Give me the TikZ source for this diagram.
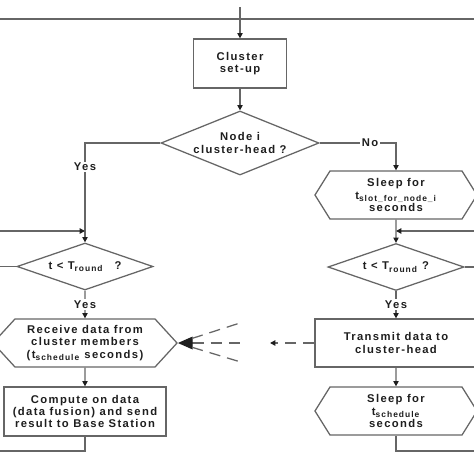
\documentclass[tikz,border=0pt]{standalone}
\usepackage{fontspec}
\setmainfont{Liberation Sans}[LetterSpace=12]
\usetikzlibrary{shapes.geometric, shapes.symbols, arrows.meta}
\definecolor{ink}{HTML}{1E1E1E}
\definecolor{wire}{HTML}{666666}
\newcommand{\chartlabel}{\fontsize{8}{8.8}\selectfont\bfseries}
\tikzset{
  flowbox/.style={rectangle, draw=wire, line width=0.9pt, fill=white, text=ink, align=center, font=\chartlabel, minimum width=4.05cm, minimum height=1.2cm, inner sep=1pt},
  query/.style={diamond, aspect=2.6, draw=wire, line width=0.9pt, fill=white, text=ink, align=center, font=\chartlabel, minimum width=3.4cm, minimum height=1.175cm, inner sep=0pt},
  waitbox/.style={signal, signal to=west and east, signal pointer angle=116, draw=wire, line width=0.9pt, fill=white, text=ink, align=center, font=\chartlabel, minimum width=4.05cm, minimum height=1.2cm, inner sep=1pt},
  line/.style={draw=wire, line width=0.9pt},
  flow/.style={line, -{Triangle[length=3.8pt, width=3.8pt, color=ink]}},
  radio/.style={line, dash pattern=on 8pt off 5pt},
  tag/.style={fill=white, text=ink, font=\chartlabel, inner sep=1pt},
}
\begin{document}
\begin{tikzpicture}[x=0.025cm, y=-0.025cm]
  \useasboundingbox (0,0) rectangle (474,474);
  % main column nodes
  \node[flowbox, minimum width=2.325cm, minimum height=1.225cm] (setup) at (240,63.5) {Cluster\\set-up};
  \node[query, minimum width=3.95cm, minimum height=1.6cm] (headq) at (240,143) {Node i\\cluster-head ?};
  \node[waitbox] (sleepslot) at (396,195) {Sleep for\\t\textsubscript{slot\_for\_node\_i}\\seconds};
  \node[query] (roundL) at (85,266.5) {t < T\textsubscript{round}\quad?};
  \node[query] (roundR) at (396,267) {t < T\textsubscript{round} ?};
  \node[waitbox, minimum width=4.6cm, signal pointer angle=95] (receive) at (85,343) {Receive data from\\cluster members\\(t\textsubscript{schedule} seconds)};
  \node[flowbox, minimum height=1.225cm] (compute) at (85,411.5) {Compute on data\\(data fusion) and send\\result to Base Station};
  \node[flowbox] (transmit) at (396,343) {Transmit data to\\cluster-head};
  \node[waitbox] (sleepsched) at (396,411) {Sleep for\\t\textsubscript{schedule}\\seconds};
  % free ends
  \coordinate (feed) at (240,7);
  \coordinate (railW) at (0,19);
  \coordinate (railE) at (474,19);
  \coordinate (loopinL) at (0,231);
  \coordinate (loopinR) at (474,231);
  \coordinate (exitL) at (0,266.5);
  \coordinate (exitR) at (474,267);
  \coordinate (backL) at (0,451);
  \coordinate (backR) at (474,451);
  \coordinate (relay) at (270,343);
  \coordinate (fanA) at (243,322);
  \coordinate (fanB) at (245,343);
  \coordinate (fanC) at (244,363);
  % connectors
  \draw[line] (railW) -- (railE);
  \draw[flow] (feed) -- (setup);
  \draw[flow] (setup) -- (headq);
  \draw[flow] (headq.west) -| node[tag, pos=0.62] {Yes} (roundL.north);
  \draw[flow] (headq.east) -| node[tag, pos=0.33] {No} (sleepslot.north);
  \draw[flow] (sleepslot) -- (roundR);
  \draw[flow] (loopinL) -- (loopinL -| roundL.north);
  \draw[flow] (loopinR) -- (loopinR -| roundR.north);
  \draw[flow] (roundL) -- node[tag] {Yes} (receive);
  \draw[flow] (roundR) -- node[tag] {Yes} (transmit);
  \draw[flow] (receive) -- (compute);
  \draw[flow] (transmit) -- (sleepsched);
  \draw[line] (roundL.west) -- (exitL);
  \draw[line] (roundR.east) -- (exitR);
  \draw[line] (compute.south) |- (backL);
  \draw[line] (sleepsched.south) |- (backR);
  % radio link
  \draw[radio, -{Triangle[length=3.8pt, width=3.8pt, color=ink]}] (transmit.west) -- (relay);
  \draw[radio, {Triangle[length=10.5pt, width=9pt, color=ink]}-] (receive.east) -- (fanB);
  \draw[radio, shorten <=10.5pt] (receive.east) -- (fanA);
  \draw[radio, shorten <=10.5pt] (receive.east) -- (fanC);
\end{tikzpicture}
\end{document}
